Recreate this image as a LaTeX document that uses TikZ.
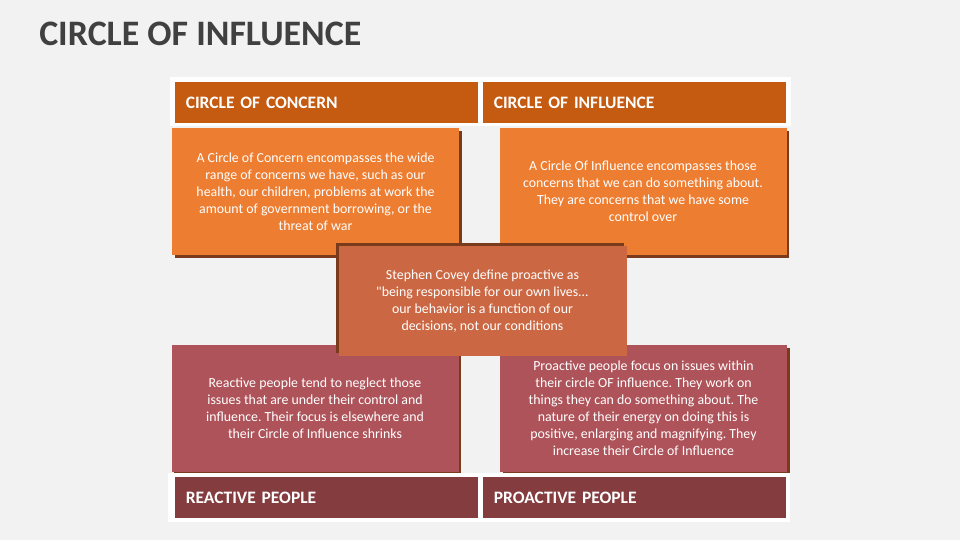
\documentclass[tikz,border=0pt]{standalone}
\usepackage{fontspec}
\setmainfont{Carlito}
\usetikzlibrary{shadows}
\frenchspacing

\definecolor{bgcol}{HTML}{F2F2F2}
\definecolor{titlecol}{HTML}{404040}
\definecolor{headorange}{HTML}{C55A11}
\definecolor{boxorange}{HTML}{ED7D31}
\definecolor{boxcentre}{HTML}{CB6843}
\definecolor{boxred}{HTML}{AE5359}
\definecolor{headred}{HTML}{843C3F}
\definecolor{shadebrown}{HTML}{7A3A1C}

\begin{document}
\begin{tikzpicture}[x=0.75pt, y=-0.75pt,
    headbox/.style={fill=#1, text=white, font=\fontsize{13.1}{15}\selectfont\bfseries,
      minimum height=30.75pt, text width=211pt, inner xsep=8pt, align=left},
    textbox/.style={fill=#1, text=white, font=\fontsize{10.4}{12.75}\selectfont,
      minimum width=215.25pt, minimum height=95pt, align=center},
    shadeRB/.style={drop shadow={shadow xshift=2.2pt, shadow yshift=-2.2pt, fill=shadebrown, opacity=1}},
    shadeLT/.style={drop shadow={shadow xshift=-2.2pt, shadow yshift=2.2pt, fill=shadebrown, opacity=1}}]
    % Background
    \fill[bgcol] (0,0) rectangle (960,540);
    \useasboundingbox (0,0) rectangle (960,540);

    % Title
    \node[anchor=west, text=titlecol, font=\fontsize{26.9}{32}\selectfont\bfseries, inner sep=0pt] (title) at (39,34) {CIRCLE OF INFLUENCE};

    % Top header strip
    \fill[white] (170,77) rectangle (791,126);
    \node[headbox=headorange] (concernhead) at (326.5,102.5) {CIRCLE OF CONCERN};
    \node[headbox=headorange] (influencehead) at (634.5,102.5) {CIRCLE OF INFLUENCE};

    % Upper boxes
    \node[textbox=boxorange, shadeRB] (concern) at (315.5,191.5) {A Circle of Concern encompasses the wide\\range of concerns we have, such as our\\health, our children, problems at work the\\amount of government borrowing, or the\\threat of war};
    \node[textbox=boxorange, shadeRB] (influence) at (643,191.5) {A Circle Of Influence encompasses those\\concerns that we can do something about.\\They are concerns that we have some\\control over};

    % Lower boxes
    \node[textbox=boxred, shadeRB] (reactive) at (315,408.5) {Reactive people tend to neglect those\\issues that are under their control and\\influence. Their focus is elsewhere and\\their Circle of Influence shrinks};
    \node[textbox=boxred, shadeRB] (proactive) at (643.5,408.5) {Proactive people focus on issues within\\their circle OF influence. They work on\\things they can do something about. The\\nature of their energy on doing this is\\positive, enlarging and magnifying. They\\increase their Circle of Influence};

    % Centre box
    \node[textbox=boxcentre, shadeLT, minimum width=216pt, minimum height=82.5pt] (covey) at (482.5,301) {Stephen Covey define proactive as\\\textquotedbl being responsible for our own lives...\\our behavior is a function of our\\decisions, not our conditions};

    % Bottom header strip
    \fill[white] (168,473) rectangle (790,522);
    \node[headbox=headred] (reactivehead) at (326.5,497.5) {REACTIVE PEOPLE};
    \node[headbox=headred] (proactivehead) at (634.5,497.5) {PROACTIVE PEOPLE};
\end{tikzpicture}
\end{document}
